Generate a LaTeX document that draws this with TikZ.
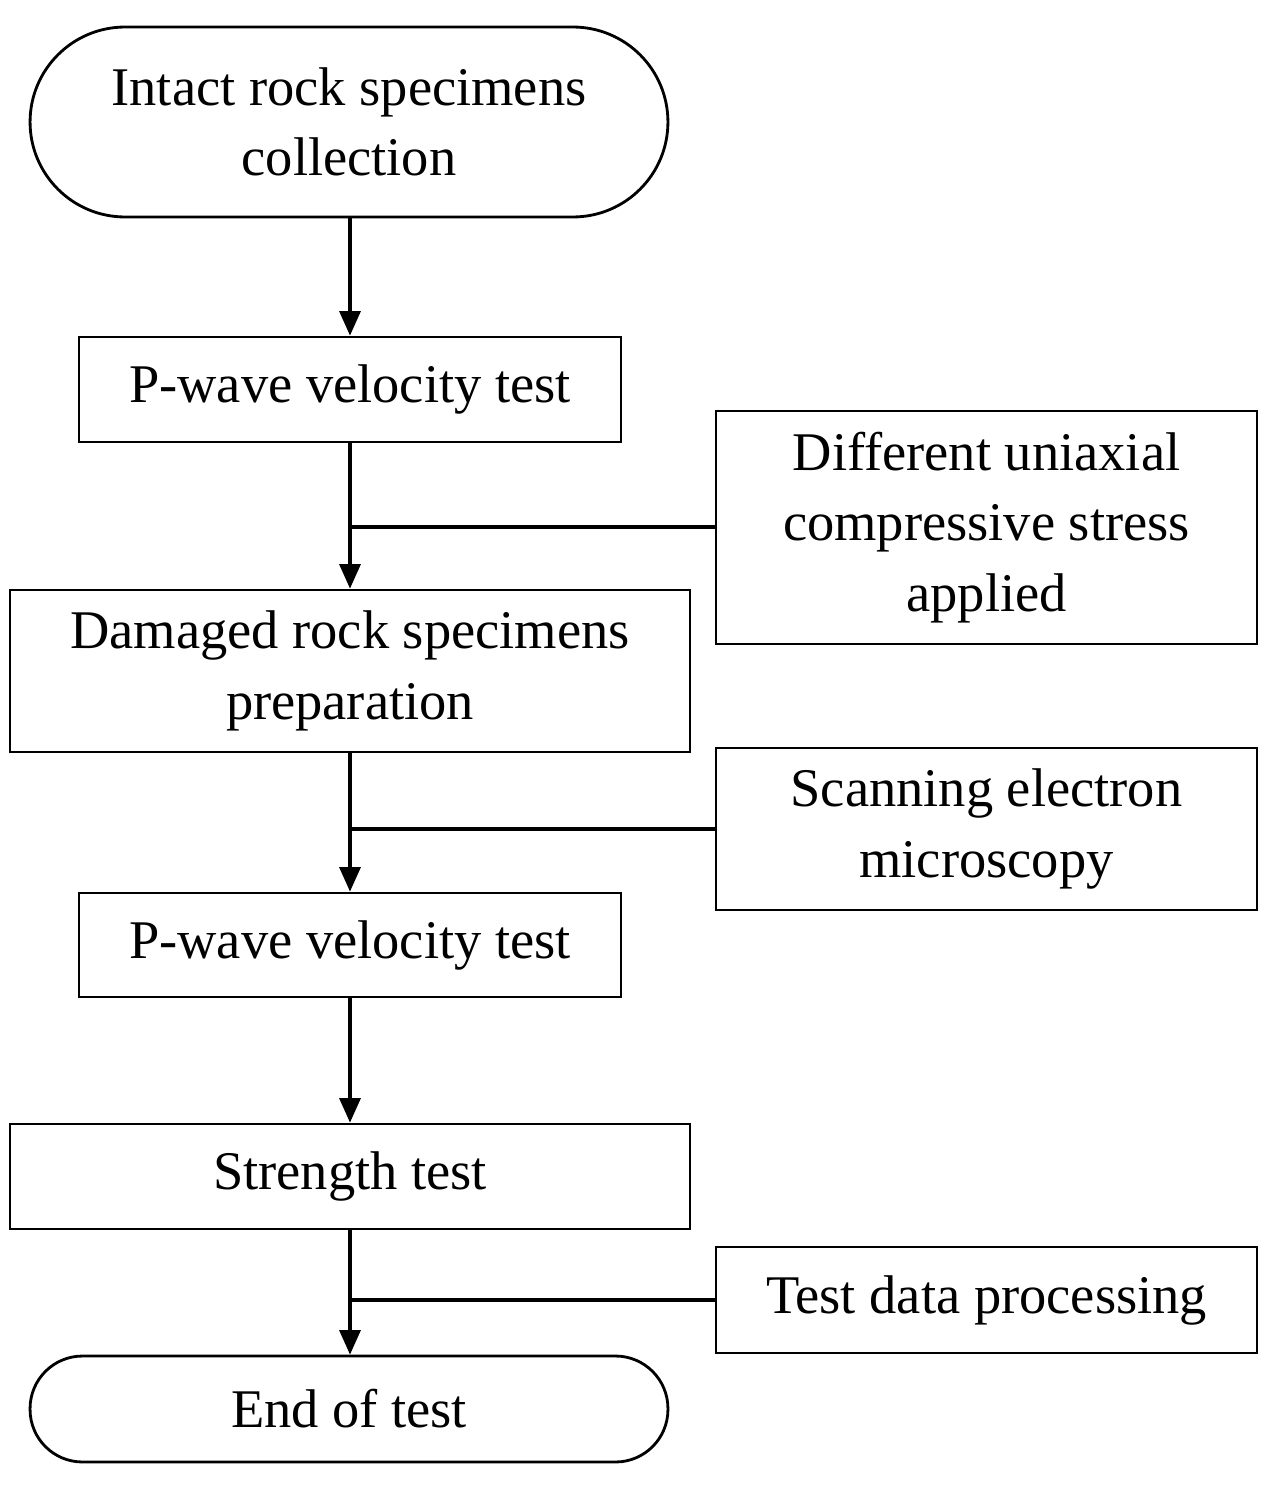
\documentclass[tikz,border=0pt]{standalone}
\usepackage{fontspec}
\setmainfont{Liberation Serif}
\usetikzlibrary{arrows.meta}
\begin{document}
\begin{tikzpicture}[x=0.02cm,y=-0.02cm,
  box/.style={draw,line width=1.6pt,align=center,inner sep=0pt,font=\fontsize{31}{40}\selectfont},
  term/.style={box,rounded corners=1.9cm},
  arr/.style={line width=1.8pt,-{Triangle[length=14pt,width=12pt]}},
  ln/.style={line width=1.8pt}]
\useasboundingbox (0,0) rectangle (1286,1497);
\node[term,minimum width=12.76cm,minimum height=3.8cm] (a) at (349,122) {Intact rock specimens\\collection};
\node[box,minimum width=10.84cm,minimum height=2.1cm] (b) at (350,389.5) {P-wave velocity test};
\node[box,minimum width=10.82cm,minimum height=4.66cm] (s1) at (986.5,527.5) {Different uniaxial\\compressive stress\\applied};
\node[box,minimum width=13.6cm,minimum height=3.24cm] (c) at (350,671) {Damaged rock specimens\\preparation};
\node[box,minimum width=10.82cm,minimum height=3.24cm] (s2) at (986.5,829) {Scanning electron\\microscopy};
\node[box,minimum width=10.84cm,minimum height=2.08cm] (d) at (350,945) {P-wave velocity test};
\node[box,minimum width=13.6cm,minimum height=2.1cm] (e) at (350,1176.5) {Strength test};
\node[box,minimum width=10.82cm,minimum height=2.12cm] (s3) at (986.5,1300) {Test data processing};
\node[term,rounded corners=1.05cm,minimum width=12.76cm,minimum height=2.12cm] (f) at (349,1409) {End of test};
\draw[arr] (a.south-|b.north) -- (b.north);
\draw[arr] (b) -- (c);
\draw[arr] (c) -- (d);
\draw[arr] (d) -- (e);
\draw[arr] (e) -- (f.north-|e.south);
\coordinate (j1) at (350,527); \coordinate (j2) at (350,829); \coordinate (j3) at (350,1300);
\draw[ln] (s1.west|-j1) -- (j1);
\draw[ln] (s2.west|-j2) -- (j2);
\draw[ln] (s3.west) -- (j3);
\end{tikzpicture}
\end{document}
